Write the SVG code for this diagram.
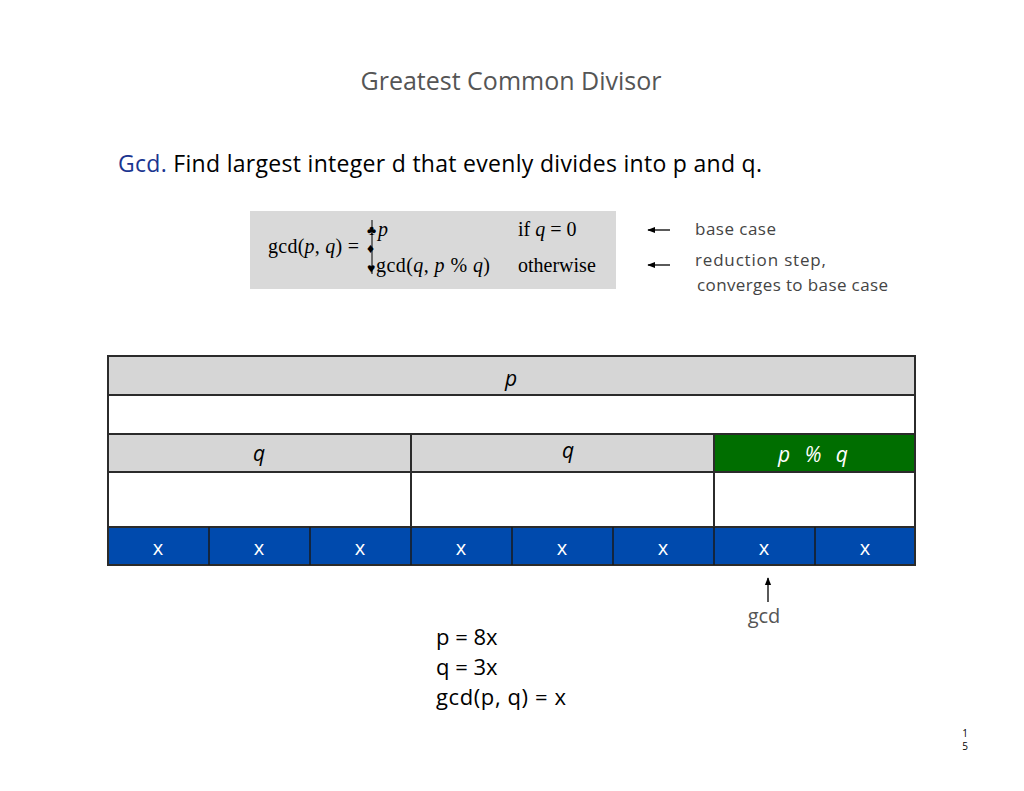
<svg xmlns="http://www.w3.org/2000/svg" width="1024" height="791" viewBox="0 0 1024 791">
<defs>
<style>
.sans{font-family:"Open Sans","DejaVu Sans",sans-serif}
.ser{font-family:"Liberation Serif","Times New Roman",serif}
.title{font-size:25px;fill:#555}
.body{font-size:22px;fill:#000}
.note{font-size:17px;fill:#444}
.cell{stroke:#2b2b2b;stroke-width:2}
.lbl{font-size:21px;font-style:italic;text-anchor:middle}
.xl{font-size:20px;fill:#fff;text-anchor:middle}
.conn{stroke:#000;stroke-width:1.3;fill:none}
.f{font-size:20px}
.br{font-size:14px}
</style>
<marker id="ah" viewBox="0 0 10 10" refX="9" refY="5" markerWidth="6" markerHeight="6" orient="auto-start-reverse">
<path d="M0,1 L10,5 L0,9 z" fill="#000"/>
</marker>
</defs>
<rect width="1024" height="791" fill="#fff"/>

<g id="title"><text class="sans title" x="511" y="90" text-anchor="middle">Greatest Common Divisor</text></g>
<g id="definition"><text class="sans" font-size="23" x="118" y="172" textLength="644" lengthAdjust="spacing"><tspan fill="#1a3590">Gcd.</tspan>  Find largest integer d that evenly divides into p and q.</text></g>

<g id="formula">
<rect x="250" y="211" width="366" height="78" fill="#d9d9d9"/>
<text class="ser f" x="268" y="253" textLength="91">gcd(<tspan font-style="italic">p</tspan>, <tspan font-style="italic">q</tspan>) =</text>
<line x1="372" y1="220" x2="372" y2="274" stroke="#000" stroke-width="1"/>
<text class="ser br" x="367" y="235">♣</text>
<text class="ser br" x="367" y="253">♦</text>
<text class="ser br" x="367" y="273">♥</text>
<text class="ser f" x="378" y="236" font-style="italic">p</text>
<text class="ser f" x="518" y="236">if <tspan font-style="italic">q</tspan> = 0</text>
<text class="ser f" x="376" y="272" textLength="114">gcd(<tspan font-style="italic">q</tspan>,  <tspan font-style="italic">p</tspan> % <tspan font-style="italic">q</tspan>)</text>
<text class="ser f" x="518" y="272">otherwise</text>
</g>

<g id="notes">
<text class="sans note" x="695" y="235" textLength="81">base case</text>
<text class="sans note" x="695" y="266" textLength="131">reduction step,</text>
<text class="sans note" x="697" y="291" textLength="191">converges to base case</text>
</g>

<g id="table">
<rect class="cell" x="108" y="356" width="807" height="39" fill="#d6d6d6"/>
<text class="sans lbl" x="511" y="386">p</text>
<rect class="cell" x="108" y="395" width="807" height="39" fill="#fff"/>
<rect class="cell" x="108" y="434" width="303" height="38" fill="#d6d6d6"/>
<text class="sans lbl" x="259" y="461">q</text>
<rect class="cell" x="411" y="434" width="303" height="38" fill="#d6d6d6"/>
<text class="sans lbl" x="568" y="458">q</text>
<rect class="cell" x="714" y="434" width="201" height="38" fill="#006e00"/>
<text class="sans lbl" x="813" y="462" fill="#fff" textLength="70">p % q</text>
<rect class="cell" x="108" y="472" width="303" height="55" fill="#fff" stroke-width="1.5"/>
<rect class="cell" x="411" y="472" width="303" height="55" fill="#fff" stroke-width="1.5"/>
<rect class="cell" x="714" y="472" width="201" height="55" fill="#fff" stroke-width="1.5"/>
<g id="xrow">
<rect class="cell" x="108" y="527" width="807" height="38" fill="#004aad"/>
<g stroke="#1a1a1a" stroke-width="1.5">
<line x1="209" y1="527" x2="209" y2="565"/><line x1="310" y1="527" x2="310" y2="565"/>
<line x1="411" y1="527" x2="411" y2="565"/><line x1="512" y1="527" x2="512" y2="565"/>
<line x1="613" y1="527" x2="613" y2="565"/><line x1="714" y1="527" x2="714" y2="565"/>
<line x1="815" y1="527" x2="815" y2="565"/>
</g>
<text class="sans xl" x="158" y="555">x</text><text class="sans xl" x="259" y="555">x</text>
<text class="sans xl" x="360" y="555">x</text><text class="sans xl" x="461" y="555">x</text>
<text class="sans xl" x="562" y="555">x</text><text class="sans xl" x="663" y="555">x</text>
<text class="sans xl" x="764" y="555">x</text><text class="sans xl" x="865" y="555">x</text>
</g>
</g>

<g id="connectors">
<line class="conn" x1="670" y1="230" x2="648" y2="230" marker-end="url(#ah)"/>
<line class="conn" x1="670" y1="265" x2="648" y2="265" marker-end="url(#ah)"/>
<line class="conn" x1="768" y1="602" x2="768" y2="578" marker-end="url(#ah)"/>
</g>

<g id="gcd-label"><text class="sans" font-size="20" fill="#555" x="764" y="623" text-anchor="middle">gcd</text></g>

<g id="example">
<text class="sans body" x="436" y="645">p = 8x</text>
<text class="sans body" x="436" y="675">q = 3x</text>
<text class="sans body" x="436" y="705" textLength="130">gcd(p, q) = x</text>
</g>

<g id="pagenum">
<text class="sans" font-size="10" x="965" y="737" text-anchor="middle">1</text>
<text class="sans" font-size="10" x="965" y="750" text-anchor="middle">5</text>
</g>
</svg>
